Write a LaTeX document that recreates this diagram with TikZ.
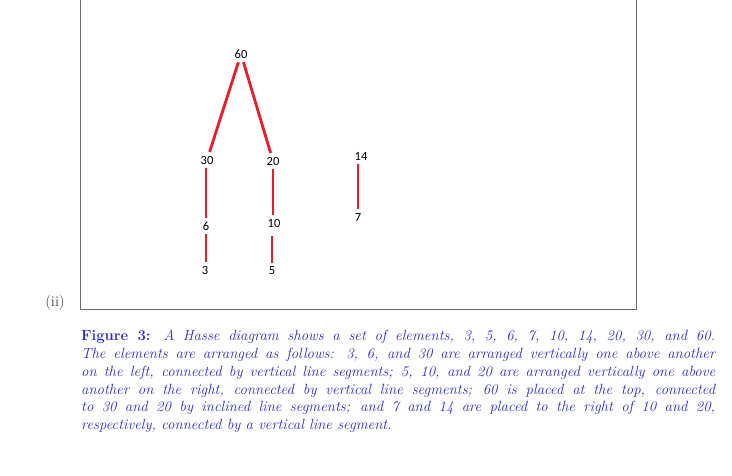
\documentclass[tikz,border=0pt]{standalone}
\usepackage{fontspec}
\newfontfamily\hassefont{Carlito}
\usepackage{tikz}
\definecolor{hasseRed}{RGB}{237,28,36}
\definecolor{captionBlue}{RGB}{40,40,235}
\definecolor{frameGray}{RGB}{110,110,110}

\begin{document}
\begin{tikzpicture}[
            x=1pt, y=-1pt,
            elem/.style={inner sep=4pt, outer sep=0pt, font=\hassefont\fontsize{12.5}{13}\selectfont},
            link/.style={draw=hasseRed, line width=2.8pt}
        ]
            \useasboundingbox (0,0) rectangle (732,476);

            % Rahmen
            \draw[frameGray, line width=1pt] (80,-5) rectangle (636,310);
            \node (label) at (55,303) [font=\fontsize{14.8}{17.8}\selectfont, text=black!75] {(ii)};

            % Elemente
            \node[elem] (n60) at (241,54) {60};
            \node[elem] (n30) at (207,160) {30};
            \node[elem] (n20) at (273,161) {20};
            \node[elem] (n6) at (206,226) {6};
            \node[elem] (n10) at (274,223) {10};
            \node[elem] (n3) at (205,270) {3};
            \node[elem] (n5) at (272,271) {5};
            \node[elem] (n14) at (361,156) {14};
            \node[elem] (n7) at (358,217) {7};

            % Kanten
            \draw[link] (n60) -- (n30);
            \draw[link] (n60) -- (n20);
            \draw[link] (n30.south -| n6) -- (n6);
            \draw[link] (n6) -- (n3.north -| n6);
            \draw[link] (n20.south) -- (n10.north -| n20);
            \draw[link, shorten <=5pt] (n10.south -| n5) -- (n5);
            \draw[link] (n14.south -| n7) -- (n7);

            % Bildunterschrift
            \node (caption) at (81,330) [anchor=north west, inner sep=0pt, text width=634pt, align=justify,
                text=captionBlue, font=\fontsize{14.8}{17.8}\selectfont]
                {\textbf{Figure 3:} \textit{A Hasse diagram shows a set of elements, 3, 5, 6, 7, 10, 14, 20, 30, and 60.\linebreak
                The elements are arranged as follows: 3, 6, and 30 are arranged vertically one above another\linebreak
                on the left, connected by vertical line segments; 5, 10, and 20 are arranged vertically one above\linebreak
                another on the right, connected by vertical line segments; 60 is placed at the top, connected\linebreak
                to 30 and 20 by inclined line segments; and 7 and 14 are placed to the right of 10 and 20,\linebreak
                respectively, connected by a vertical line segment.}};
        \end{tikzpicture}
\end{document}
